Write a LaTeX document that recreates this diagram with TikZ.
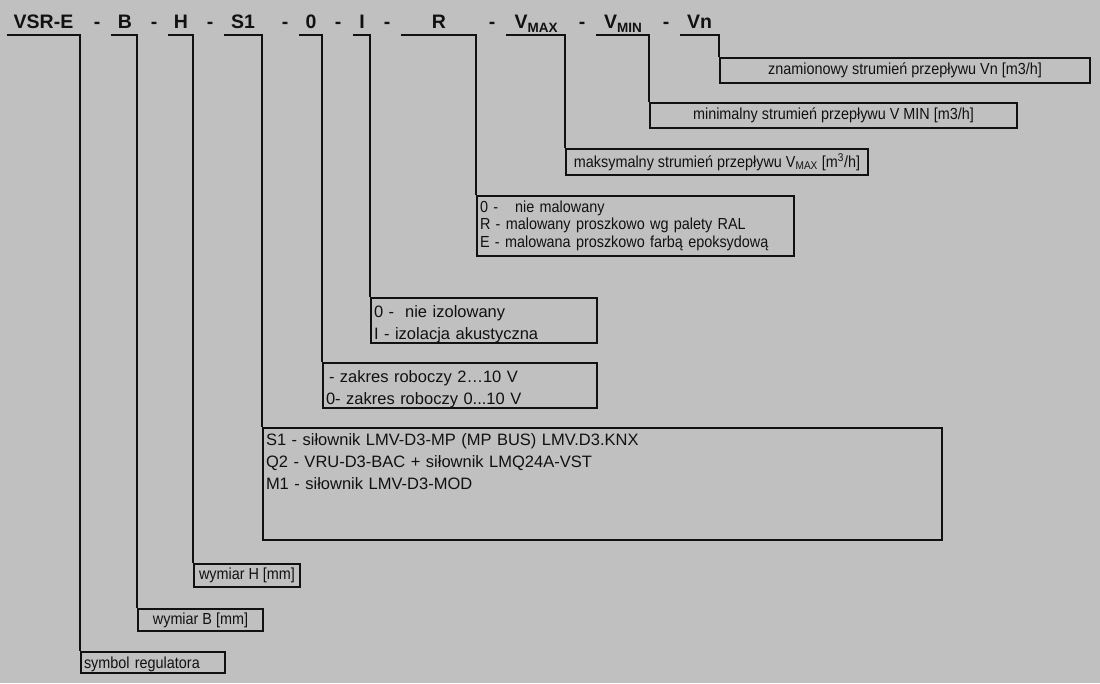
\documentclass[tikz,border=0pt]{standalone}
\usepackage{fontspec}
\setmainfont{Liberation Sans}
\newfontfamily\narrowsans[FakeStretch=0.9]{Liberation Sans}
\definecolor{sheetgray}{HTML}{C0C0C0}
\definecolor{codeink}{HTML}{111111}

\begin{document}
\begin{tikzpicture}[
  x=1pt,
  y=-1pt,
  every node/.style={text=codeink},
  hdr/.style={font=\fontsize{19.5}{22}\selectfont\bfseries, anchor=base, inner sep=0pt},
  lead/.style={codeink, line width=2pt},
  box/.style={draw=codeink, line width=2pt, anchor=north west, inner sep=0pt},
  notesm/.style={font=\narrowsans\fontsize{16}{17.5}\selectfont},
  notelg/.style={font=\fontsize{16.5}{22}\selectfont},
  lbox/.style={box, inner xsep=3pt, align=left}
]
  % ---- sheet, same size as the reference (1 unit = 1 px)
  \fill[sheetgray] (0,0) rectangle (1100,683);

  % ---- type code along the top ------------------------------------------
  \node[hdr] (hVSR) at (43.5,28) {VSR-E};
  \node[hdr] (hB)   at (125,28)  {B};
  \node[hdr] (hH)   at (181,28)  {H};
  \node[hdr] (hS)   at (243,28)  {S1};
  \node[hdr] (hZ)   at (311,28)  {0};
  \node[hdr] (hI)   at (362,28)  {I};
  \node[hdr] (hR)   at (439,28)  {R};
  \node[hdr] (hMax) at (536,28)
    {V\raisebox{-4pt}{\fontsize{13.5}{14}\selectfont MAX}};
  \node[hdr] (hMin) at (623,28)
    {V\raisebox{-4pt}{\fontsize{13.5}{14}\selectfont MIN}};
  \node[hdr] (hVn)  at (699.5,28) {Vn};
  \foreach \x [count=\i] in {97,154,210,285,338,387,492,582,666}
    \node[hdr] (dash\i) at (\x,28) {-};

  % ---- explanation boxes ------------------------------------------------
  \node[box, notesm, minimum width=370, minimum height=25] (bVn) at (719,57)
    {znamionowy strumień przepływu Vn [m3/h]};
  \node[box, notesm, minimum width=367, minimum height=25] (bMin) at (649,102)
    {minimalny strumień przepływu V MIN [m3/h]};
  \node[box, notesm, minimum width=302, minimum height=26] (bMax) at (565,148)
    {maksymalny strumień przepływu V\textsubscript{MAX} [m\textsuperscript{3}/h]};
  \node[lbox, notesm, text width=311, text height=16, text depth=44] (bR) at (476,195)
    {0 -\hspace{17pt}nie malowany\\
     R - malowany proszkowo wg palety RAL\\
     E - malowana proszkowo farbą epoksydową};
  \node[lbox, notelg, text width=220, text height=19, text depth=26] (bI) at (370,297)
    {0 -\hspace{11pt}nie izolowany\\
     I - izolacja akustyczna};
  \node[lbox, notelg, text width=268, text height=19, text depth=26] (bZ) at (322,362)
    {\hspace{3pt}- zakres roboczy 2…10 V\\
     0- zakres roboczy 0...10 V};
  \node[lbox, notelg, text width=673, text height=17, text depth=95] (bS) at (262,427)
    {S1 - siłownik LMV-D3-MP (MP BUS) LMV.D3.KNX\\
     Q2 - VRU-D3-BAC + siłownik LMQ24A-VST\\
     M1 - siłownik LMV-D3-MOD};
  \node[box, notesm, minimum width=106, minimum height=23] (bH) at (193,563)
    {wymiar H [mm]};
  \node[box, notesm, minimum width=125, minimum height=22] (bB) at (137,608)
    {wymiar B [mm]};
  \node[lbox, notesm, text width=138, text height=16, text depth=5] (bSym) at (80,651)
    {symbol regulatora};

  % ---- leaders: underline each part of the code, then down to its box ---
  \coordinate (uVSR) at (7,35);
  \coordinate (uB)   at (111,35);
  \coordinate (uH)   at (168,35);
  \coordinate (uS)   at (224,35);
  \coordinate (uZ)   at (299,35);
  \coordinate (uI)   at (353,35);
  \coordinate (uR)   at (401,35);
  \coordinate (uMax) at (506,35);
  \coordinate (uMin) at (596,35);
  \coordinate (uVn)  at (680,35);
  \draw[lead] (uVSR) -| (bSym.north west);
  \draw[lead] (uB)   -| (bB.north west);
  \draw[lead] (uH)   -| (bH.north west);
  \draw[lead] (uS)   -| (bS.north west);
  \draw[lead] (uZ)   -| (bZ.north west);
  \draw[lead] (uI)   -| (bI.north west);
  \draw[lead] (uR)   -| (bR.north west);
  \draw[lead] (uMax) -| (bMax.north west);
  \draw[lead] (uMin) -| (bMin.north west);
  \draw[lead] (uVn)  -| (bVn.north west);
\end{tikzpicture}
\end{document}
